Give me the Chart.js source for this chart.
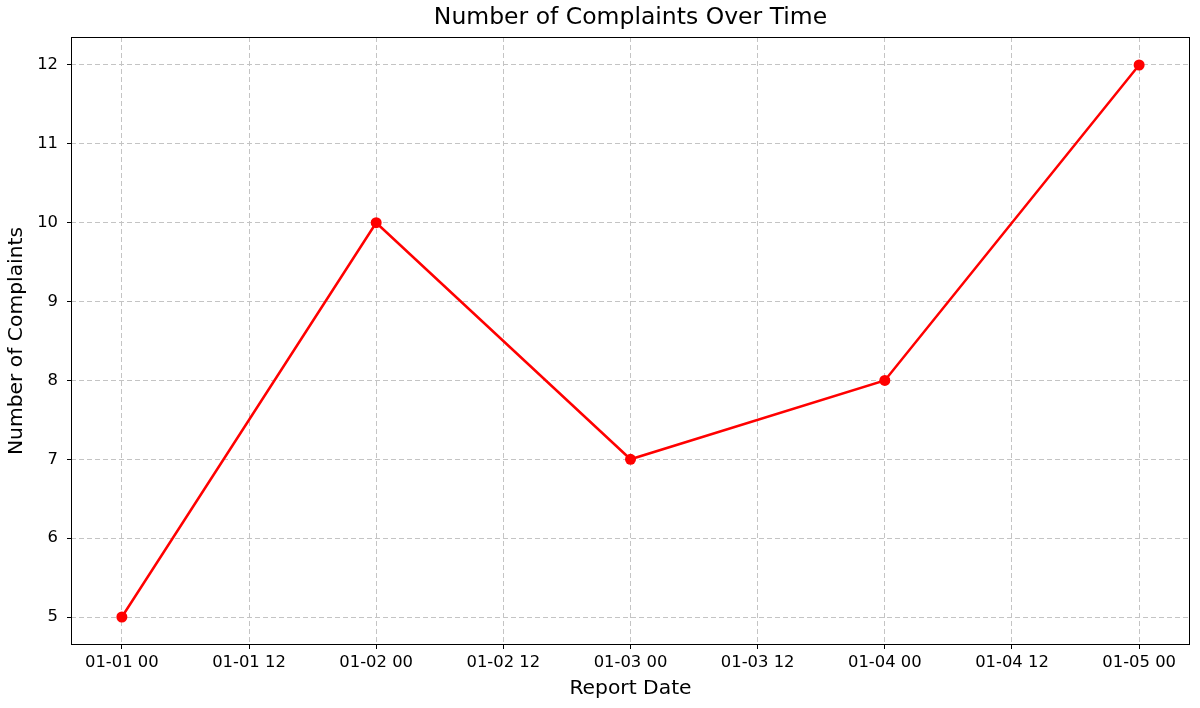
<!DOCTYPE html>
<html>
<head>
<meta charset="utf-8">
<script src="https://cdn.jsdelivr.net/npm/chart.js@4"></script>
<style>
  html, body { margin: 0; padding: 0; background: #fff; }
  #wrap { width: 1200px; height: 708px; }
</style>
</head>
<body>
<div id="wrap"><canvas id="myChart" width="1200" height="708"></canvas></div>
<script>
// report dates as day offsets from 01-01, and complaint counts
var reportDays = [0, 1, 2, 3, 4];
var complaints = [5, 10, 7, 8, 12];
// x tick positions (days) and their labels
var xTickDays = [0, 0.5, 1, 1.5, 2, 2.5, 3, 3.5, 4];
var xTickLabels = ['01-01 00', '01-01 12', '01-02 00', '01-02 12', '01-03 00', '01-03 12', '01-04 00', '01-04 12', '01-05 00'];
var yTicks = [5, 6, 7, 8, 9, 10, 11, 12];
var chartTitle = 'Number of Complaints Over Time';

var FONT = "'DejaVu Sans', sans-serif";

var points = reportDays.map(function(d, i) { return {x: d, y: complaints[i]}; });

// draws the full box round the plot area, and the title centred over it
var frame = {
  id: 'frame',
  afterDraw: function(chart) {
    var a = chart.chartArea;
    var c = chart.ctx;
    c.save();
    c.strokeStyle = '#000';
    c.lineWidth = 1;
    c.strokeRect(a.left + 0.5, a.top + 0.5, a.right - a.left - 1, a.bottom - a.top - 1);
    c.fillStyle = '#000';
    c.font = '23.5px ' + FONT;
    c.textAlign = 'center';
    c.textBaseline = 'middle';
    c.fillText(chartTitle, (a.left + a.right) / 2, 18);
    c.restore();
  }
};

var ctx = document.getElementById('myChart').getContext('2d');
var chart = new Chart(ctx, {
  type: 'line',
  data: {
    datasets: [{
      label: 'Complaints',
      data: points,
      borderColor: '#ff0000',
      backgroundColor: '#ff0000',
      borderWidth: 2.5,
      pointRadius: 5.5,
      pointHoverRadius: 5.5,
      pointBorderWidth: 0,
      tension: 0
    }]
  },
  options: {
    responsive: false,
    animation: false,
    layout: { padding: { left: 0, right: 10, top: 37, bottom: 0 } },
    plugins: {
      legend: { display: false },
      tooltip: { enabled: false },
      title: { display: false }
    },
    scales: {
      x: {
        type: 'linear',
        min: -0.2,
        max: 4.2,
        afterBuildTicks: function(scale) {
          scale.ticks = xTickDays.map(function(v) { return {value: v}; });
        },
        afterFit: function(scale) { scale.height = 63; },
        ticks: {
          autoSkip: false,
          maxRotation: 0,
          color: '#000',
          padding: 4,
          font: { family: FONT, size: 16.4 },
          callback: function(v) {
            var i = xTickDays.indexOf(v);
            return i >= 0 ? xTickLabels[i] : '';
          }
        },
        grid: { color: '#c4c4c4', lineWidth: 1, tickColor: '#000', tickLength: 4, tickBorderDash: [] },
        border: { display: false, dash: [5, 3] },
        title: {
          display: true,
          text: 'Report Date',
          color: '#000',
          font: { family: FONT, size: 20.3 },
          padding: { top: 2, bottom: 7 }
        }
      },
      y: {
        type: 'linear',
        min: 4.645,
        max: 12.355,
        afterBuildTicks: function(scale) {
          scale.ticks = yTicks.map(function(v) { return {value: v}; });
        },
        afterFit: function(scale) { scale.width = 71; },
        ticks: {
          color: '#000',
          padding: 9,
          font: { family: FONT, size: 16.4 }
        },
        grid: { color: '#c4c4c4', lineWidth: 1, tickColor: '#000', tickLength: 4, tickBorderDash: [] },
        border: { display: false, dash: [5, 3] },
        title: {
          display: true,
          text: 'Number of Complaints',
          color: '#000',
          font: { family: FONT, size: 20.3 },
          padding: { top: 5, bottom: 4 }
        }
      }
    }
  },
  plugins: [frame]
});
</script>
</body>
</html>
